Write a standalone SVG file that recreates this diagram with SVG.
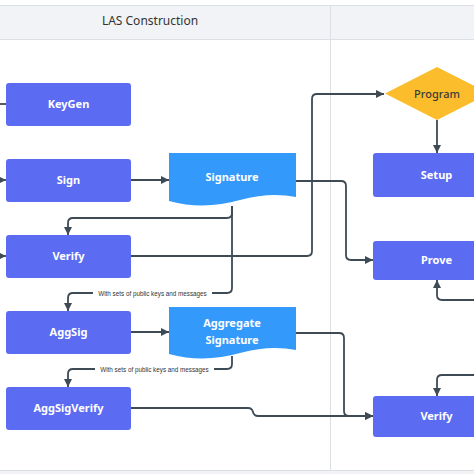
<svg xmlns="http://www.w3.org/2000/svg" width="474" height="474" viewBox="0 0 474 474">
<defs>
<style>
.proc{fill:#5b6cf2;}
.doc{fill:#3399fb;}
.dec{fill:#fbbd2b;}
.nt{font-family:"Noto Sans","Liberation Sans",sans-serif;font-size:11px;font-weight:bold;fill:#ffffff;text-anchor:middle;}
.dt{font-family:"Noto Sans","Liberation Sans",sans-serif;font-size:11px;font-weight:500;fill:#3a3a3a;text-anchor:middle;}
.hd{font-family:"Noto Sans","Liberation Sans",sans-serif;font-size:12px;fill:#333333;text-anchor:middle;}
.lbl{font-family:"Liberation Sans",Arial,sans-serif;font-size:6.3px;fill:#333333;text-anchor:middle;}
.c{fill:none;stroke:#3e4a54;stroke-width:1.8;}
.ca{marker-end:url(#ah);}
.grid{stroke:#dcdfe4;stroke-width:1;fill:none;}
</style>
<marker id="ah" markerUnits="userSpaceOnUse" markerWidth="8" markerHeight="8" refX="8" refY="4" orient="auto">
<path d="M0,0 L8,4 L0,8 Z" fill="#3e4a54"/>
</marker>
</defs>
<rect width="474" height="474" fill="#ffffff"/>
<g id="lanes">
<rect x="0" y="5" width="474" height="34" fill="#f1f3f6"/>
<line class="grid" x1="0" y1="5.5" x2="474" y2="5.5"/>
<line class="grid" x1="0" y1="39.5" x2="474" y2="39.5"/>
<line class="grid" x1="330.5" y1="5" x2="330.5" y2="470"/>
<line class="grid" x1="0" y1="470.5" x2="474" y2="470.5"/>
<rect x="0" y="471" width="474" height="3" fill="#f1f3f6"/>
<text class="hd" x="150" y="25">LAS Construction</text>
</g>
<g id="connectors">
<path class="c" d="M0,104 H6"/>
<path class="c ca" d="M0,180 H6"/>
<path class="c ca" d="M0,256 H6"/>
<path class="c ca" d="M131,180 H169"/>
<path class="c ca" d="M296,181 H341 Q346,181 346,186 V255 Q346,260 351,260 H373"/>
<path class="c ca" d="M131,256 H307 Q312,256 312,251 V99 Q312,94 317,94 H384"/>
<path class="c ca" d="M232,206 V213 Q232,218 227,218 H73 Q68,218 68,223 V235"/>
<path class="c ca" d="M232,206 V288 Q232,293 227,293 H73 Q68,293 68,298 V311"/>
<path class="c ca" d="M131,332 H169"/>
<path class="c ca" d="M232,356 V364 Q232,369 227,369 H73 Q68,369 68,374 V387"/>
<path class="c ca" d="M296,333 H339 Q344,333 344,338 V411 Q344,416 349,416 H373"/>
<path class="c ca" d="M131,408 H248 Q252,408 253,412 Q254,416 258,416 H373"/>
<path class="c ca" d="M474,300 H442 Q437,300 437,295 V280"/>
<path class="c ca" d="M474,375 H442 Q437,375 437,380 V396"/>
<path class="c ca" d="M437,120 V153"/>
<rect x="93" y="289" width="119" height="8" fill="#ffffff"/>
<text class="lbl" x="152.5" y="295.5">With sets of public keys and messages</text>
<rect x="95" y="365" width="119" height="8" fill="#ffffff"/>
<text class="lbl" x="154.5" y="371.5">With sets of public keys and messages</text>
</g>
<g id="keygen"><rect class="proc" x="6" y="83" width="125" height="43" rx="3"/><text class="nt" x="68.5" y="108">KeyGen</text></g>
<g id="sign"><rect class="proc" x="6" y="159" width="125" height="43" rx="3"/><text class="nt" x="68.5" y="184">Sign</text></g>
<g id="verify-las"><rect class="proc" x="6" y="235" width="125" height="43" rx="3"/><text class="nt" x="68.5" y="260">Verify</text></g>
<g id="aggsig"><rect class="proc" x="6" y="311" width="125" height="43" rx="3"/><text class="nt" x="68.5" y="336">AggSig</text></g>
<g id="aggsigverify"><rect class="proc" x="6" y="387" width="125" height="43" rx="3"/><text class="nt" x="68.5" y="412">AggSigVerify</text></g>
<g id="signature"><path class="doc" d="M169,153 H296 V197 C280,194 262,194 240,200 C218,206 195,208 169,201 Z"/><text class="nt" x="232" y="181">Signature</text></g>
<g id="aggregate-signature"><path class="doc" d="M169,307 H296 V350 C280,347 262,347 240,353 C218,359 195,361 169,354 Z"/><text class="nt" x="232" y="327">Aggregate</text><text class="nt" x="232" y="344">Signature</text></g>
<g id="program"><path class="dec" d="M437,67 L489,93.5 L437,120 L385,93.5 Z"/><text class="dt" x="437" y="97.5">Program</text></g>
<g id="setup"><rect class="proc" x="373" y="153" width="127" height="44" rx="3"/><text class="nt" x="436.5" y="179">Setup</text></g>
<g id="prove"><rect class="proc" x="373" y="241" width="127" height="39" rx="3"/><text class="nt" x="436.5" y="264">Prove</text></g>
<g id="verify-zk"><rect class="proc" x="373" y="396" width="127" height="41" rx="3"/><text class="nt" x="436.5" y="420">Verify</text></g>
</svg>
